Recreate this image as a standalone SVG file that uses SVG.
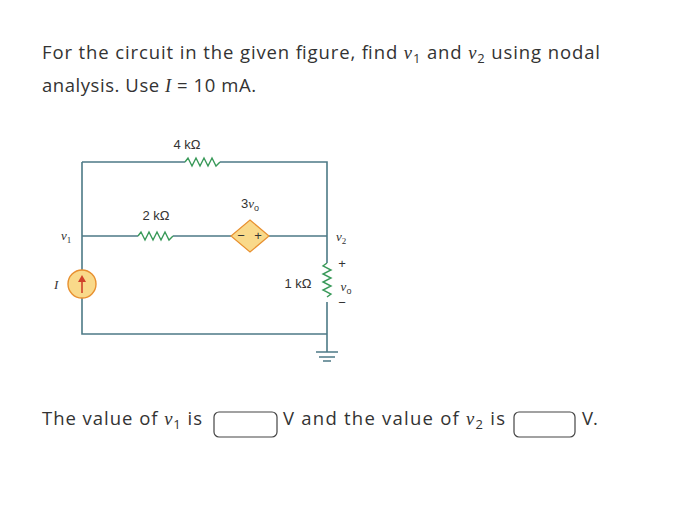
<svg xmlns="http://www.w3.org/2000/svg" width="700" height="527" viewBox="0 0 700 527">
<style>
.t{font-family:"Open Sans","Liberation Sans",sans-serif;font-size:18.5px;fill:#333}
.s{font-family:"Liberation Sans",Arial,sans-serif;font-size:13px;fill:#333}
.i{font-family:"Liberation Serif",serif;font-style:italic}
.w{stroke:#4d7a86;stroke-width:1.6;fill:none}
.r{stroke:#3a9a5a;stroke-width:1.4;fill:none}
.b{fill:#fff;stroke:#444;stroke-width:1.2}
</style>
<rect width="700" height="527" fill="#fff"/>
<text class="t" x="42" y="59" textLength="558">For the circuit in the given figure, find <tspan class="i">v</tspan><tspan font-size="13" dy="4">1</tspan><tspan dy="-4"> and </tspan><tspan class="i">v</tspan><tspan font-size="13" dy="4">2</tspan><tspan dy="-4"> using nodal</tspan></text>
<text class="t" x="42" y="92" textLength="214">analysis. Use <tspan class="i">I</tspan> = 10 mA.</text>
<g id="wires">
<path class="w" d="M82 162H185M220 162H327V263M327 302V352M82 162V270M82 298V334H327M82 236H138M173 236H231M269 236H327"/>
<path class="w" d="M316 352H338M319 357H335M323 361H331"/>
</g>
<g id="r4k"><path class="r" d="M185 162l3-4 4 8 4-8 4 8 4-8 4 8 4-8 4 8 4-4"/><text class="s" x="187" y="149" text-anchor="middle">4 kΩ</text></g>
<g id="r2k"><path class="r" d="M138 236l3-4 4 8 4-8 4 8 4-8 4 8 4-8 4 8 4-4"/><text class="s" x="156" y="220" text-anchor="middle">2 kΩ</text></g>
<g id="src3v"><path d="M250 220L269 236L250 252L231 236Z" fill="#f9d98a" stroke="#e89030" stroke-width="1.2"/>
<text class="s" x="241" y="240" text-anchor="middle">−</text><text class="s" x="258" y="240" text-anchor="middle">+</text>
<text class="s" x="250" y="208" text-anchor="middle">3<tspan class="i">v</tspan><tspan font-size="9" dy="3">o</tspan></text></g>
<g id="srcI"><circle cx="82" cy="284" r="14" fill="#f9d98a" stroke="#e89030" stroke-width="1.4"/>
<path d="M82 293V280" stroke="#d0402a" stroke-width="1.6"/><path d="M78 282L82 275L86 282Z" fill="#d0402a"/>
<text class="s i" x="54" y="289">I</text></g>
<g id="r1k"><path class="r" d="M327 263l-4 3 8 4-8 4 8 4-8 4 8 4-8 4 8 4-4 3"/>
<text class="s" x="298" y="288" text-anchor="middle">1 kΩ</text>
<text class="s" x="342" y="268" text-anchor="middle">+</text>
<text class="s" x="346" y="291" text-anchor="middle"><tspan class="i">v</tspan><tspan font-size="9" dy="3">o</tspan></text>
<text class="s" x="342" y="307" text-anchor="middle">−</text></g>
<text class="s i" x="61" y="240">v<tspan font-size="9" dy="3" font-style="normal">1</tspan></text>
<text class="s i" x="336" y="241">v<tspan font-size="9" dy="3" font-style="normal">2</tspan></text>
<text class="t" x="42" y="425" textLength="160">The value of <tspan class="i">v</tspan><tspan font-size="13" dy="4">1</tspan><tspan dy="-4"> is</tspan></text>
<rect class="b" x="214" y="412" width="63" height="25" rx="5"/>
<text class="t" x="283" y="425" textLength="222">V and the value of <tspan class="i">v</tspan><tspan font-size="13" dy="4">2</tspan><tspan dy="-4"> is</tspan></text>
<rect class="b" x="514" y="412" width="61" height="25" rx="5"/>
<text class="t" x="582" y="425">V.</text>
</svg>
